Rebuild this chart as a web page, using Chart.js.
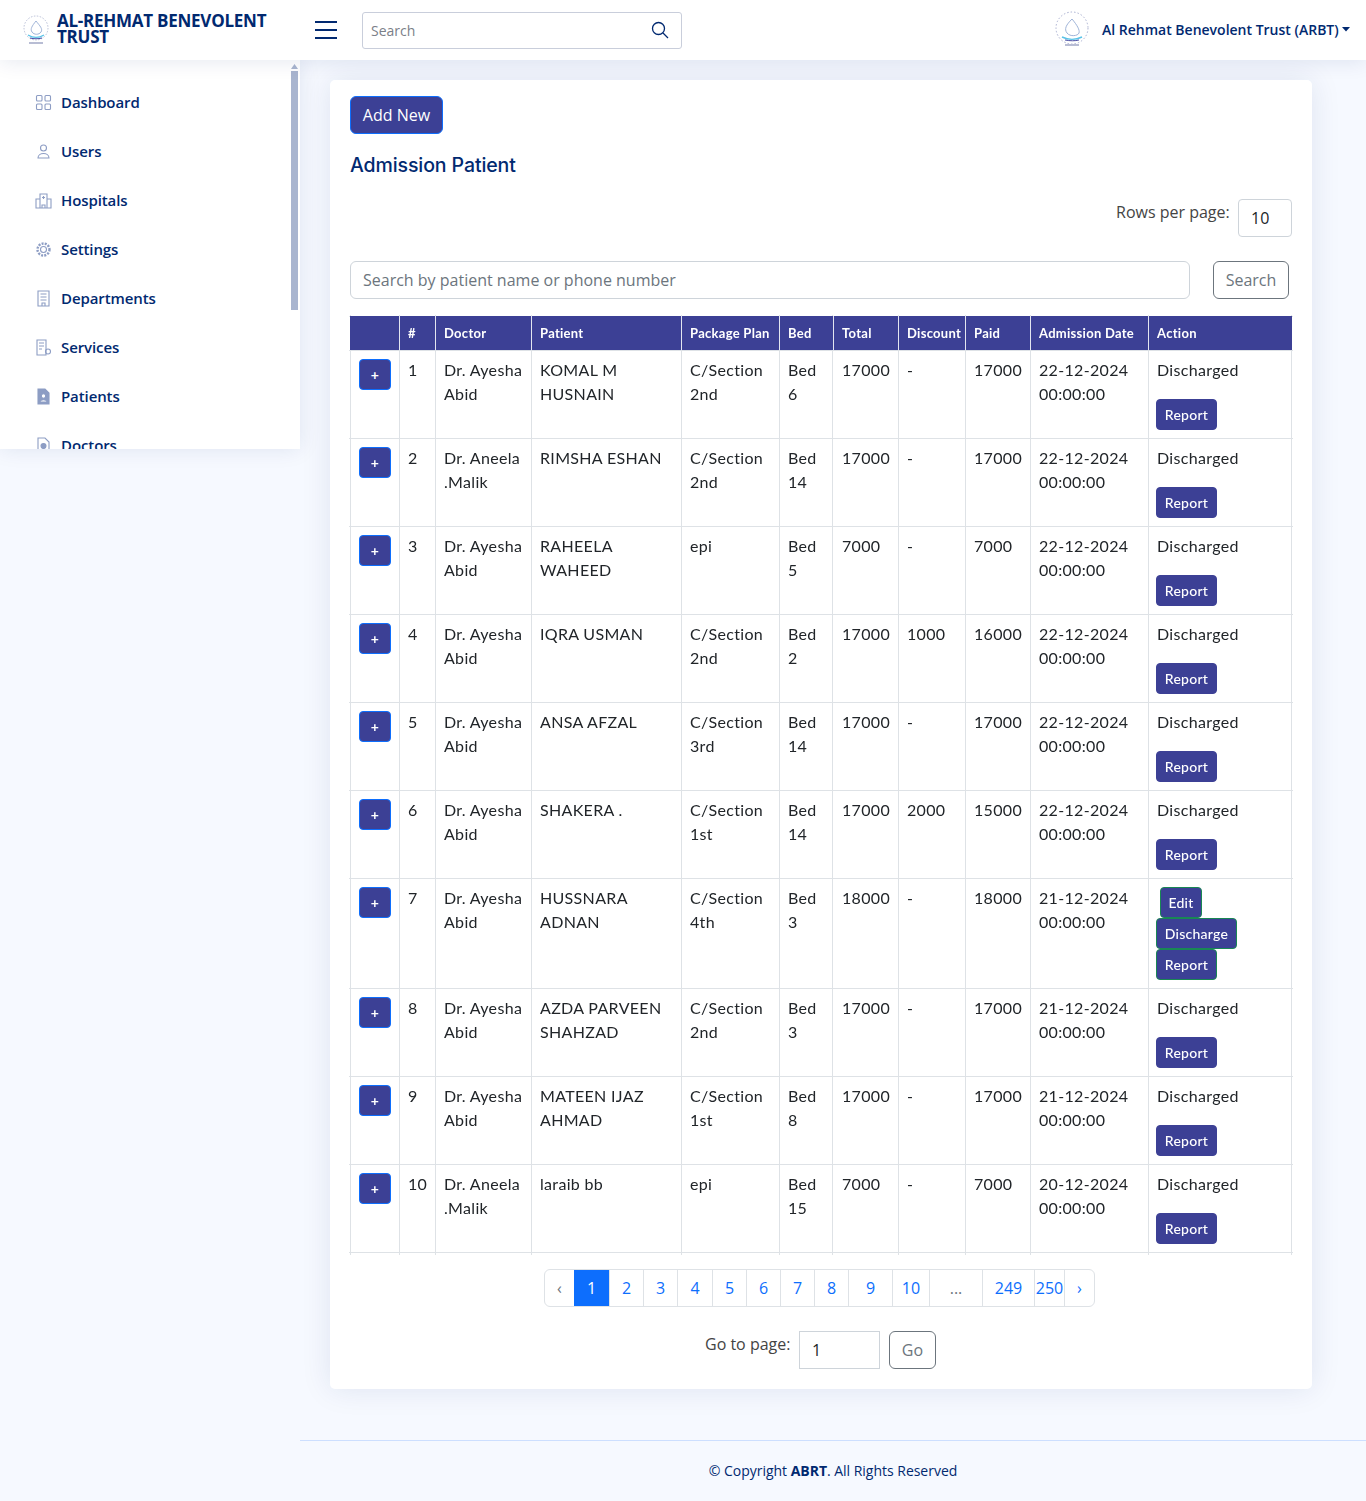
<!DOCTYPE html>
<html lang="en">
<head>
<meta charset="utf-8">
<title>Admission Patient</title>
<script src="https://cdn.jsdelivr.net/npm/chart.js@4/dist/chart.umd.min.js"></script>
<style>
*{box-sizing:border-box}
html,body{margin:0;padding:0}
body{width:1366px;height:1501px;position:relative;overflow:hidden;background:#f6f9ff;font-family:"Open Sans",sans-serif;color:#444}
.abs{position:absolute;white-space:nowrap}
#top{position:absolute;left:0;top:0;width:1366px;height:60px;background:#fff;box-shadow:0 2px 20px rgba(1,41,112,.1);z-index:5}
#side{position:absolute;left:0;top:60px;width:300px;height:389px;background:#fff;box-shadow:0 0 20px rgba(1,41,112,.1);overflow:hidden;z-index:4}
#side .it{position:absolute;left:61px;font:600 15px/20px "Open Sans",sans-serif;color:#012970;letter-spacing:-.1px}
#side svg{position:absolute;left:35px;width:17px;height:17px;fill:none;stroke:#8d9dc4;stroke-width:1.1}
#card{position:absolute;left:330px;top:80px;width:982px;height:1309px;background:#fff;border-radius:5px;box-shadow:0 0 30px rgba(1,41,112,.1)}
.inp{position:absolute;border:1px solid #ced4da;background:#fff;color:#212529;font-size:16px;line-height:36px}
.btn{position:absolute;border:1px solid #6c757d;border-radius:6px;color:#6c757d;font-size:16px;line-height:36px;text-align:center;background:#fff}
#wrap{position:absolute;left:349px;top:315px;width:944px;height:940px}
#wrap canvas{position:absolute;left:0;top:0}
.cell{position:absolute;font:400 16px/24px Lato,sans-serif;letter-spacing:.32px;color:#212529}
.th{position:absolute;font:700 13px/16px Lato,sans-serif;letter-spacing:.28px;color:#fff;white-space:nowrap}
.tb{position:absolute;height:31px;background:#3c4095;border:1px solid #3c4095;border-radius:4px;color:#fff;font:500 14px/29px Lato,sans-serif;letter-spacing:.25px;text-align:center;white-space:nowrap}
.tb.plus{border-color:#0d6efd;font-weight:700}
.tb.green{border-color:#198754}
#pg{position:absolute;left:544px;top:1269px;height:38px;display:flex;border:1px solid #dee2e6;border-radius:6px;overflow:hidden;background:#fff}
#pg span{display:block;height:36px;line-height:36px;text-align:center;font-size:16px;color:#0d6efd;border-left:1px solid #dee2e6}
#pg span:first-child{border-left:0}
#pg span.on{background:#0d6efd;color:#fff;border-left:0}
#pg span.mut{color:#6c757d}
</style>
</head>
<body>
<div id="top">
  <svg class="abs" style="left:20px;top:15px" width="32" height="32" viewBox="0 0 32 32" fill="none"><circle cx="16" cy="13" r="12" stroke="#b9bfd8" stroke-width="1" stroke-dasharray="1.5 1.5"/><path d="M16 6c-4 5-6 8-4 11s7 3 9 0-1-6-5-11z" stroke="#9fb4d8" stroke-width="1"/><path d="M8 20c5 3 11 3 16 0" stroke="#59c3e8" stroke-width="1.4"/><path d="M10 23c4 1 8 1 12 0" stroke="#4a4fa5" stroke-width="1"/><rect x="9" y="27" width="14" height="2" fill="#b8bdd4"/></svg>
  <div class="abs" style="left:57px;top:13px;font:700 17px/16px 'Open Sans',sans-serif;color:#012970;letter-spacing:-.25px">AL-REHMAT BENEVOLENT<br>TRUST</div>
  <svg class="abs" style="left:315px;top:20px" width="22" height="20" viewBox="0 0 22 20"><path d="M0 2h22M0 10h22M0 18h22" stroke="#012970" stroke-width="2.2"/></svg>
  <div class="inp" style="left:362px;top:12px;width:320px;height:37px;border-radius:3px;border-color:#c9cedb;color:#7b8088;font-size:14px;line-height:35px;padding-left:8px">Search</div>
  <svg class="abs" style="left:651px;top:21px" width="18" height="18" viewBox="0 0 18 18" fill="none" stroke="#012970" stroke-width="1.3"><circle cx="7.5" cy="7.5" r="6"/><path d="M12 12l5 5"/></svg>
  <svg class="abs" style="left:1052px;top:11px" width="40" height="38" viewBox="0 0 40 38" fill="none"><circle cx="20" cy="17" r="16" stroke="#a9afd0" stroke-width="1" stroke-dasharray="1.5 2"/><path d="M20 8c-6 6-8 10-5 14s11 3 12 0-2-8-7-14z" stroke="#9fb4d8" stroke-width="1"/><path d="M10 26c6 3 14 3 20 0" stroke="#59c3e8" stroke-width="1.4"/><path d="M13 29c5 1 10 1 14 0" stroke="#4a4fa5" stroke-width="1"/><rect x="13" y="33" width="14" height="2" fill="#b8bdd4"/></svg>
  <div class="abs" style="left:1102px;top:20px;font:600 14px/20px 'Open Sans',sans-serif;color:#012970">Al Rehmat Benevolent Trust (ARBT)</div>
  <svg class="abs" style="left:1342px;top:27px" width="8" height="5" viewBox="0 0 8 5"><path d="M0 0h8L4 4.500z" fill="#012970"/></svg>
</div>
<div id="side">
  <div style="position:absolute;left:291px;top:11px;width:7px;height:239px;background:#a9b5cf"></div>
  <svg class="abs" style="left:291px;top:4px;width:7px;height:5px;stroke:none" viewBox="0 0 7 5"><path d="M3.500 0L7 5H0z" fill="#a9b5cf"/></svg>
  <div id="navs"></div>
</div>
<div id="card"></div>
<div class="abs" style="left:350px;top:96px;width:93px;height:38px;background:#3c4095;border:1px solid #0d6efd;border-radius:6px;color:#fff;font-size:16px;line-height:36px;text-align:center;z-index:1">Add New</div>
<div class="abs" style="left:350px;top:152px;font:500 19.500px/26px Inter,sans-serif;color:#012970;letter-spacing:-.1px">Admission Patient</div>
<div class="abs" style="left:1116px;top:200px;font-size:16px;line-height:24px">Rows per page:</div>
<div class="inp" style="left:1238px;top:199px;width:54px;height:38px;border-radius:4px;padding-left:12px">10</div>
<div class="inp" style="left:350px;top:261px;width:840px;height:38px;border-radius:6px;padding-left:12px;color:#6c757d">Search by patient name or phone number</div>
<div class="btn" style="left:1213px;top:261px;width:76px;height:38px">Search</div>
<div id="wrap"><canvas id="tbl" width="944" height="940" style="width:944px;height:940px"></canvas></div>
<div id="pg"></div>
<div class="abs" style="left:705px;top:1332px;font-size:16px;line-height:24px">Go to page:</div>
<div class="inp" style="left:799px;top:1331px;width:81px;height:38px;padding-left:12px">1</div>
<div class="btn" style="left:889px;top:1331px;width:47px;height:38px">Go</div>
<div style="position:absolute;left:300px;top:1440px;width:1066px;height:1px;background:#cddfff"></div>
<div class="abs" style="left:300px;width:1066px;top:1461px;text-align:center;font-size:14px;line-height:20px;color:#012970;letter-spacing:-.02px">© Copyright <b>ABRT</b>. All Rights Reserved</div>
<script>
/* Data */
const navItems = ["Dashboard","Users","Hospitals","Settings","Departments","Services","Patients","Doctors"];
const headers = ["","#","Doctor","Patient","Package Plan","Bed","Total","Discount","Paid","Admission Date","Action"];
const serial = ["1","2","3","4","5","6","7","8","9","10"];
const doctors = ["Dr. Ayesha Abid","Dr. Aneela .Malik","Dr. Ayesha Abid","Dr. Ayesha Abid","Dr. Ayesha Abid","Dr. Ayesha Abid","Dr. Ayesha Abid","Dr. Ayesha Abid","Dr. Ayesha Abid","Dr. Aneela .Malik"];
const patients = ["KOMAL M HUSNAIN","RIMSHA ESHAN","RAHEELA WAHEED","IQRA USMAN","ANSA AFZAL","SHAKERA .","HUSSNARA ADNAN","AZDA PARVEEN SHAHZAD","MATEEN IJAZ AHMAD","laraib bb"];
const plans = ["C/Section 2nd","C/Section 2nd","epi","C/Section 2nd","C/Section 3rd","C/Section 1st","C/Section 4th","C/Section 2nd","C/Section 1st","epi"];
const beds = ["Bed 6","Bed 14","Bed 5","Bed 2","Bed 14","Bed 14","Bed 3","Bed 3","Bed 8","Bed 15"];
const totals = [17000,17000,7000,17000,17000,17000,18000,17000,17000,7000];
const discounts = ["-","-","-","1000","-","2000","-","-","-","-"];
const paid = [17000,17000,7000,16000,17000,15000,18000,17000,17000,7000];
const dates = ["22-12-2024 00:00:00","22-12-2024 00:00:00","22-12-2024 00:00:00","22-12-2024 00:00:00","22-12-2024 00:00:00","22-12-2024 00:00:00","21-12-2024 00:00:00","21-12-2024 00:00:00","21-12-2024 00:00:00","20-12-2024 00:00:00"];
const statuses = ["Discharged","Discharged","Discharged","Discharged","Discharged","Discharged","","Discharged","Discharged","Discharged"];
const pageLabels = ["‹","1","2","3","4","5","6","7","8","9","10","...","249","250","›"];

/* Table layout (not data): column and row sizes */
const colWidths = [49,36,96,150,98,54,65,67,65,118,143];
const rowHeights = [34,88,88,88,88,88,88,110,88,88,88];
const pageWidths = [29,35,34,34,35,34,34,34,34,44,37,53,52,30];
const cum = (a,s) => a.reduce((o,w)=>(o.push(o[o.length-1]+w),o),[s]);
const colEdges = cum(colWidths,1);
const rowEdges = cum(rowHeights,1);

/* sidebar */
const icons = [
 '<rect x="1.500" y="1.500" width="5.500" height="5.500" rx="1"/><rect x="10" y="1.500" width="5.500" height="5.500" rx="1"/><rect x="1.500" y="10" width="5.500" height="5.500" rx="1"/><rect x="10" y="10" width="5.500" height="5.500" rx="1"/>',
 '<circle cx="8.500" cy="5" r="3"/><path d="M3 15c0-6 11-6 11 0z"/>',
 '<path d="M1 16V7h4V2h7v5h4v9zM5 7v9M12 7v9M8.500 4v3M7 5.500h3M7 13h3v3H7z"/>',
 '<circle cx="8.500" cy="8.500" r="3"/><circle cx="8.500" cy="8.500" r="6" stroke-width="2.400" stroke-dasharray="2 1.200"/>',
 '<path d="M3 1h11v15H3zM7 16v-3h3v3M5.500 4h6M5.500 7h6M5.500 10h6"/>',
 '<path d="M2 1h9v15H2zM4 4h5M4 7h5M4 10h3"/><circle cx="13" cy="12.500" r="2.500"/>',
 '<path d="M3 1h7l4 4v11H3z" fill="#8d9dc4"/><circle cx="8.500" cy="8" r="2.200" fill="#fff"/><path d="M5 14c0-3 7-3 7 0z" fill="#fff"/>',
 '<path d="M3 1h7l4 4v11H3z"/><circle cx="8.500" cy="9" r="2.500" fill="#8d9dc4"/>'
];
document.getElementById('navs').innerHTML = navItems.map((n,i)=>{
  const cy = 42 + 49*i;
  return '<svg viewBox="0 0 17 17" style="top:'+(cy-8)+'px">'+icons[i]+'</svg><div class="it" style="top:'+(cy-10)+'px">'+n+'</div>';
}).join('');

/* pagination */
document.getElementById('pg').innerHTML = pageLabels.map((p,i)=>{
  const cls = p==='1' ? 'on' : (p==='‹'||p==='...') ? 'mut' : '';
  return '<span class="'+cls+'" style="width:'+(pageWidths[i]||30)+'px">'+p+'</span>';
}).join('');

/* table: one scatter dataset per column; library scales place every cell */
const rowIdx = serial.map((_,i)=>i);
const columns = [
  {label:"#",values:serial,col:1},{label:"Doctor",values:doctors,col:2},{label:"Patient",values:patients,col:3},
  {label:"Package Plan",values:plans,col:4},{label:"Bed",values:beds,col:5},{label:"Total",values:totals,col:6},
  {label:"Discount",values:discounts,col:7},{label:"Paid",values:paid,col:8},{label:"Admission Date",values:dates,col:9},
  {label:"Action",values:statuses,col:10},{label:"",values:serial.map(()=>"+"),col:0}
];
const headerBand = {
  id:'headerBand',
  beforeDatasetsDraw(c){
    const {ctx,scales:{x,y}} = c;
    const l=x.getPixelForValue(colEdges[0]), r=x.getPixelForValue(colEdges[colEdges.length-1]);
    const t=y.getPixelForValue(rowEdges[0]), b=y.getPixelForValue(rowEdges[1]);
    ctx.save();
    ctx.fillStyle='#3c4095';
    ctx.fillRect(l,t,r-l+1,b-t);
    ctx.fillStyle='#e3e5f0';
    colEdges.slice(1,-1).forEach(e=>ctx.fillRect(Math.round(x.getPixelForValue(e)),t,1,b-t));
    ctx.restore();
  }
};
const edgeTicks = edges => ax => { ax.ticks = edges.map(value=>({value})); };
const chart = new Chart(document.getElementById('tbl'),{
  type:'scatter',
  data:{datasets:columns.map(c=>({
    label:c.label,
    data:rowIdx.map(r=>({x:colEdges[c.col],y:rowEdges[r+1]})),
    pointRadius:0,pointHoverRadius:0
  }))},
  options:{
    responsive:false,animation:false,devicePixelRatio:1,
    layout:{padding:0},
    events:[],
    plugins:{legend:{display:false},tooltip:{enabled:false},title:{display:false}},
    scales:{
      x:{type:'linear',min:0,max:944,afterBuildTicks:edgeTicks(colEdges),
         ticks:{display:false,autoSkip:false},border:{display:false},
         grid:{color:'#dee2e6',lineWidth:1,drawTicks:false}},
      y:{type:'linear',reverse:true,min:0,max:940,afterBuildTicks:edgeTicks(rowEdges),
         ticks:{display:false,autoSkip:false},border:{display:false},
         grid:{color:'#dee2e6',lineWidth:1,drawTicks:false}}
    }
  },
  plugins:[headerBand]
});

/* real-text cells placed from the chart's own point elements */
const wrap = document.getElementById('wrap');
function add(cls,text,left,top,extra){
  const d=document.createElement('div');
  d.className=cls; d.textContent=text;
  d.style.left=left+'px'; d.style.top=top+'px';
  if(extra) Object.assign(d.style,extra);
  wrap.appendChild(d);
}
const xs=chart.scales.x, ys=chart.scales.y;
headers.forEach((h,i)=>{ if(h) add('th',h,xs.getPixelForValue(colEdges[i])+9,ys.getPixelForValue(rowEdges[0])+9); });
columns.forEach((c,ci)=>{
  const meta=chart.getDatasetMeta(ci);
  meta.data.forEach((pt,r)=>{
    if(c.col===0){ add('tb plus','+',pt.x+9,pt.y+9,{width:'32px'}); return; }
    const w=colWidths[c.col]-15;
    if(c.values[r]!=="") add('cell',c.values[r],pt.x+9,pt.y+8,{width:(c.col===8||c.col===6?w+8:w)+'px'});
    if(c.col===10){
      if(c.values[r]==="Discharged"){
        add('tb','Report',pt.x+8,pt.y+49,{width:'61px'});
      }else{
        add('tb green','Edit',pt.x+12,pt.y+9,{width:'42px'});
        add('tb green','Discharge',pt.x+8,pt.y+40,{width:'81px'});
        add('tb green','Report',pt.x+8,pt.y+71,{width:'61px'});
      }
    }
  });
});
</script>
</body>
</html>
